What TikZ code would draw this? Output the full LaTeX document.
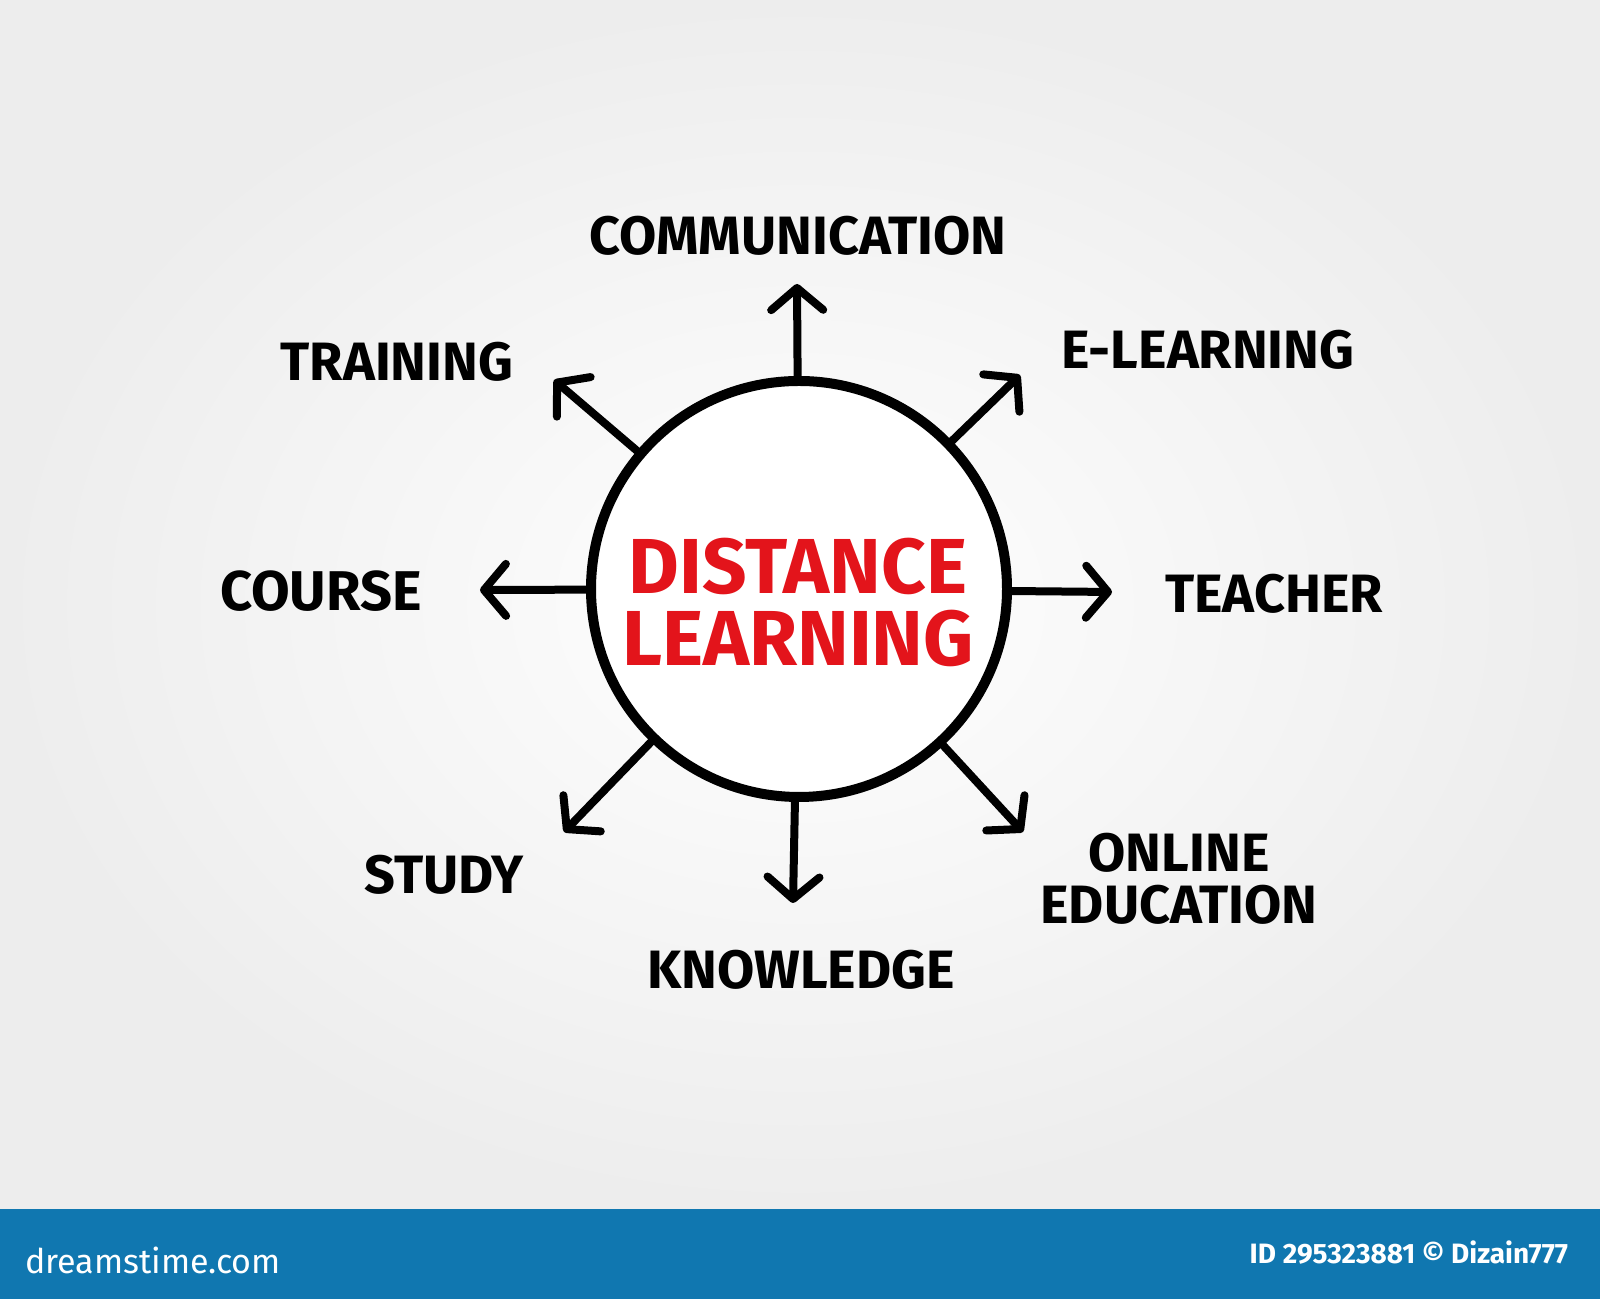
\documentclass[tikz,border=0pt]{standalone}
\usepackage{fontspec}
\setmainfont{Fira Sans}
\usetikzlibrary{arrows.meta, positioning, shapes.geometric}
\definecolor{barblue}{HTML}{1077B0}
\definecolor{titlered}{HTML}{E3141B}
\definecolor{bggray}{HTML}{EDEDED}

\begin{document}
\begin{tikzpicture}[x=0.5pt,y=0.5pt]
        % --- estilos ---
        \tikzstyle{hub} = [
            circle,
            draw=black,
            line width=5pt,
            fill=white,
            minimum size=208pt,
            inner sep=0pt
        ]
        \tikzstyle{topic} = [font=\fontsize{27}{26}\selectfont\bfseries, align=center, inner sep=0pt]
        \tikzstyle{arrow} = [line width=4pt, line cap=round, -{Straight Barb[length=11pt,width=26pt,line cap=round,line join=round]}]

        % --- fundo ---
        \shade [inner color=white, outer color=bggray] (0,90) rectangle (1600,1299);
        \useasboundingbox (0,0) rectangle (1600,1299);

        % --- nós ---
        \node (dl) [hub] at (799,710) {};
        \node (dltext) [font=\fontsize{39}{36}\selectfont\bfseries, text=titlered, align=center] at (798,697) {DISTANCE\\LEARNING};

        \node (comm) [topic] at (798,1063) {COMMUNICATION};
        \node (elearn) [topic] at (1208,949) {E-LEARNING};
        \node (training) [topic] at (397,937) {TRAINING};
        \node (course) [topic, font=\fontsize{28}{26}\selectfont\bfseries] at (321,708) {COURSE};
        \node (teacher) [topic] at (1274,705) {TEACHER};
        \node (study) [topic] at (444,424) {STUDY};
        \node (knowledge) [topic] at (801,329) {KNOWLEDGE};
        \node (online) [topic] at (1179,420) {ONLINE\\EDUCATION};

        % --- pontas das setas ---
        \coordinate (tcomm) at (797,1015);
        \coordinate (telearn) at (1020,924);
        \coordinate (tteacher) at (1112,707);
        \coordinate (tonline) at (1023,467);
        \coordinate (tknow) at (793,396);
        \coordinate (tstudy) at (564,467);
        \coordinate (tcourse) at (480,709);
        \coordinate (ttrain) at (554,919);

        % --- conexões ---
        \foreach \tip in {tcomm, telearn, tteacher, tonline, tknow, tstudy, tcourse, ttrain}
            \draw [arrow] (dl) -- (\tip);

        % --- faixa inferior ---
        \fill [barblue] (0,0) rectangle (1600,90);
        \node (brand) [anchor=west, text=white, font=\fontsize{17}{19}\selectfont] at (18,39) {dreamstime.com};
        \node (credit) [anchor=east, text=white, font=\fontsize{14}{16}\selectfont\bfseries] at (1575,46) {ID 295323881 © Dizain777};
    \end{tikzpicture}
\end{document}
